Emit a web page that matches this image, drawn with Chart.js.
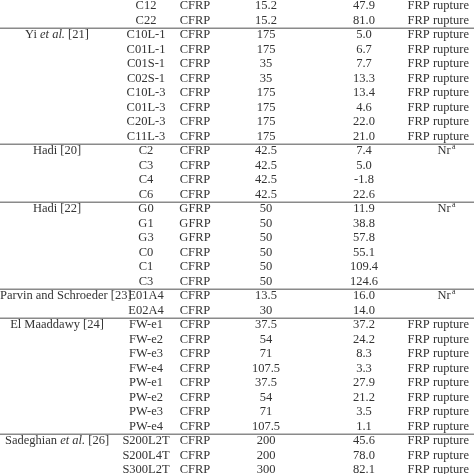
<!DOCTYPE html><html><head><meta charset="utf-8">
<script src="https://cdn.jsdelivr.net/npm/chart.js@4"></script>
<style>html,body{margin:0;padding:0;background:#fff}#w{width:474px;height:474px}</style></head><body>
<div id="w"><canvas id="c"></canvas></div>
<script>
const groupAuthors = [["",""],["Yi ","et al."," [21]"],["Hadi [20]"],["Hadi [22]"],["Parvin and Schroeder [23]"],["El Maaddawy [24]"],["Sadeghian ","et al."," [26]"]];
const groupSizes = [2,8,4,6,2,8,3];
const groupFailure = ["FRP rupture","FRP rupture","Nr","Nr","Nr","FRP rupture","FRP rupture"];
const specimens = ["C12","C22","C10L-1","C01L-1","C01S-1","C02S-1","C10L-3","C01L-3","C20L-3","C11L-3","C2","C3","C4","C6","G0","G1","G3","C0","C1","C3","E01A4","E02A4","FW-e1","FW-e2","FW-e3","FW-e4","PW-e1","PW-e2","PW-e3","PW-e4","S200L2T","S200L4T","S300L2T"];
const fibres = ["CFRP","CFRP","CFRP","CFRP","CFRP","CFRP","CFRP","CFRP","CFRP","CFRP","CFRP","CFRP","CFRP","CFRP","GFRP","GFRP","GFRP","CFRP","CFRP","CFRP","CFRP","CFRP","CFRP","CFRP","CFRP","CFRP","CFRP","CFRP","CFRP","CFRP","CFRP","CFRP","CFRP"];
const colA = ["15.2","15.2","175","175","35","35","175","175","175","175","42.5","42.5","42.5","42.5","50","50","50","50","50","50","13.5","30","37.5","54","71","107.5","37.5","54","71","107.5","200","200","300"];
const colB = ["47.9","81.0","5.0","6.7","7.7","13.3","13.4","4.6","22.0","21.0","7.4","5.0","-1.8","22.6","11.9","38.8","57.8","55.1","109.4","124.6","16.0","14.0","37.2","24.2","8.3","3.3","27.9","21.2","3.5","1.1","45.6","78.0","82.1"];

const N = specimens.length;
const tablePlugin = {
  id:'table',
  afterDraw(chart){
    const ctx = chart.ctx, y = chart.scales.y, x = chart.scales.x;
    const font = '12.5px "Liberation Serif"', ifont = 'italic 12.5px "Liberation Serif"';
    ctx.save();
    ctx.fillStyle = '#333'; ctx.textBaseline = 'middle';
    let r = 0;
    groupSizes.forEach((n, g) => {
      for (let k = 0; k < n; k++) {
        const row = r + k, py = y.getPixelForValue(row);
        ctx.font = font; ctx.textAlign = 'center';
        ctx.fillText(specimens[row], x.getPixelForValue(146), py);
        ctx.fillText(fibres[row], x.getPixelForValue(195), py);
        ctx.fillText(colA[row], x.getPixelForValue(266), py);
        ctx.fillText(colB[row], x.getPixelForValue(364), py);
        if (groupFailure[g] === "FRP rupture") {
          ctx.textAlign = 'right';
          ctx.fillText("FRP rupture", x.getPixelForValue(469), py);
        } else if (k === 0) {
          ctx.fillText("Nr", x.getPixelForValue(444), py);
          ctx.font = '8px "Liberation Serif"'; ctx.textAlign = 'left';
          ctx.fillText("a", x.getPixelForValue(452), py - 4);
        }
      }
      // author
      const parts = groupAuthors[g];
      if (parts.join('')) {
        const py = y.getPixelForValue(r);
        const ws = parts.map((p,i)=>{ctx.font = i===1?ifont:font; return ctx.measureText(p).width;});
        const tw = ws.reduce((a,b)=>a+b,0);
        let px = Math.max(0, x.getPixelForValue(57) - tw/2);
        ctx.textAlign = 'left';
        parts.forEach((p,i)=>{ctx.font = i===1?ifont:font; ctx.fillText(p, px, py); px += ws[i];});
      }
      r += n;
      if (r < N) {
        const ly = y.getPixelForValue(r - 0.5) + 0.5;
        ctx.strokeStyle = '#8a8a8a'; ctx.lineWidth = 1.5;
        ctx.beginPath(); ctx.moveTo(x.left, ly); ctx.lineTo(x.right, ly); ctx.stroke();
      }
    });
    ctx.restore();
  }
};
new Chart(document.getElementById('c'), {
  type:'scatter',
  data:{datasets:[{data:[],pointRadius:0}]},
  options:{responsive:true,maintainAspectRatio:false,animation:false,
    layout:{padding:0},
    plugins:{legend:{display:false},tooltip:{enabled:false}},
    scales:{
      x:{type:'linear',min:0,max:474,display:false},
      y:{type:'linear',reverse:true,min:-0.41,max:32.28,display:false}
    }},
  plugins:[tablePlugin]
});
</script></body></html>
